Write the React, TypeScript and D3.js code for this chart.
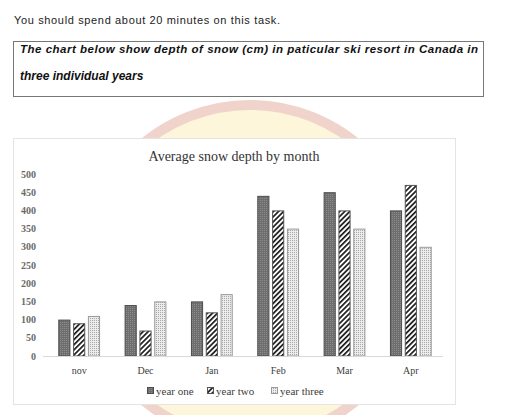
import * as d3 from "d3";
import { useEffect, useRef } from "react";

const months = ["nov", "Dec", "Jan", "Feb", "Mar", "Apr"];
const seriesNames = ["year one", "year two", "year three"];
const yearOne = [100, 140, 150, 440, 450, 400];
const yearTwo = [90, 70, 120, 400, 400, 470];
const yearThree = [110, 150, 170, 350, 350, 300];
const yTicks = [0, 50, 100, 150, 200, 250, 300, 350, 400, 450, 500];

const headerNote = "You should spend about 20 minutes on this task.";
const promptLine1 = "The chart below show depth of snow (cm) in paticular ski resort in Canada in";
const promptLine2 = "three individual years";
const chartTitle = "Average snow depth by month";

export default function App() {
  const svgRef = useRef<SVGSVGElement | null>(null);

  useEffect(() => {
    if (!svgRef.current) return;
    const svg = d3.select(svgRef.current);
    svg.selectAll("*").remove();

    const width = 512;
    const height = 415;
    const serif = "'Liberation Serif', 'Times New Roman', serif";
    const sans = "'Liberation Sans', Arial, sans-serif";

    const defs = svg.append("defs");

    // year one: dark grey fine dots
    const p1 = defs
      .append("pattern")
      .attr("id", "pat-one")
      .attr("patternUnits", "userSpaceOnUse")
      .attr("width", 2)
      .attr("height", 2);
    p1.append("rect").attr("width", 2).attr("height", 2).attr("fill", "#6e6e6e");
    p1.append("rect").attr("width", 1).attr("height", 1).attr("fill", "#8c8c8c");

    // year two: black diagonal stripes
    const p2 = defs
      .append("pattern")
      .attr("id", "pat-two")
      .attr("patternUnits", "userSpaceOnUse")
      .attr("width", 3.6)
      .attr("height", 3.6)
      .attr("patternTransform", "rotate(45)");
    p2.append("rect").attr("width", 3.6).attr("height", 3.6).attr("fill", "#ffffff");
    p2.append("rect").attr("width", 1.7).attr("height", 3.6).attr("fill", "#1a1a1a");

    // year three: light dotted
    const p3 = defs
      .append("pattern")
      .attr("id", "pat-three")
      .attr("patternUnits", "userSpaceOnUse")
      .attr("width", 2)
      .attr("height", 2);
    p3.append("rect").attr("width", 2).attr("height", 2).attr("fill", "#ececec");
    p3.append("rect").attr("width", 1).attr("height", 1).attr("fill", "#a8a8a8");

    const fills = ["url(#pat-one)", "url(#pat-two)", "url(#pat-three)"];
    const strokes = ["#4d4d4d", "#555555", "#9a9a9a"];

    svg.append("rect").attr("width", width).attr("height", height).attr("fill", "#ffffff");

    // faint watermark behind the chart box
    svg
      .append("circle")
      .attr("cx", 250)
      .attr("cy", 272)
      .attr("r", 167)
      .attr("fill", "#fdf6da")
      .attr("stroke", "#f0d3cb")
      .attr("stroke-width", 10);

    // header
    svg
      .append("text")
      .attr("x", 14)
      .attr("y", 24)
      .attr("font-family", sans)
      .attr("font-size", 11)
      .attr("fill", "#222")
      .attr("textLength", 266)
      .text(headerNote);

    svg
      .append("rect")
      .attr("x", 13.5)
      .attr("y", 41.5)
      .attr("width", 470)
      .attr("height", 55)
      .attr("fill", "#ffffff")
      .attr("stroke", "#777")
      .attr("stroke-width", 1);

    svg
      .append("text")
      .attr("x", 20)
      .attr("y", 53)
      .attr("font-family", sans)
      .attr("font-size", 11.5)
      .attr("font-weight", "bold")
      .attr("font-style", "italic")
      .attr("fill", "#111")
      .attr("textLength", 458)
      .attr("lengthAdjust", "spacing")
      .text(promptLine1);

    svg
      .append("text")
      .attr("x", 20)
      .attr("y", 80)
      .attr("font-family", sans)
      .attr("font-size", 12)
      .attr("font-weight", "bold")
      .attr("font-style", "italic")
      .attr("fill", "#111")
      .text(promptLine2);

    // chart box
    svg
      .append("rect")
      .attr("x", 13.5)
      .attr("y", 138.5)
      .attr("width", 442)
      .attr("height", 266)
      .attr("fill", "#ffffff")
      .attr("stroke", "#e4e4e4");

    svg
      .append("text")
      .attr("x", 234)
      .attr("y", 161)
      .attr("text-anchor", "middle")
      .attr("font-family", serif)
      .attr("font-size", 14)
      .attr("fill", "#333")
      .text(chartTitle);

    const x = d3.scaleBand<string>().domain(months).range([46, 444]).paddingInner(0.37).paddingOuter(0.185);
    const xs = d3.scaleBand<string>().domain(seriesNames).range([0, x.bandwidth()]).paddingInner(0.18);
    const y = d3.scaleLinear().domain([0, 500]).range([356, 174]);

    // y tick labels
    svg
      .append("g")
      .selectAll("text")
      .data(yTicks)
      .join("text")
      .attr("x", 36)
      .attr("y", (d) => y(d))
      .attr("dy", "0.35em")
      .attr("text-anchor", "end")
      .attr("font-family", serif)
      .attr("font-size", 10)
      .attr("font-weight", "bold")
      .attr("fill", "#6a6a6a")
      .text((d) => d);

    const series = [yearOne, yearTwo, yearThree];
    series.forEach((vals, si) => {
      svg
        .append("g")
        .selectAll("rect")
        .data(vals)
        .join("rect")
        .attr("x", (_d, i) => (x(months[i]) ?? 0) + (xs(seriesNames[si]) ?? 0) + 0.5)
        .attr("y", (d) => y(d) + 0.5)
        .attr("width", xs.bandwidth() - 1)
        .attr("height", (d) => y(0) - y(d) - 0.5)
        .attr("fill", fills[si])
        .attr("stroke", strokes[si])
        .attr("stroke-width", 1);
    });

    // baseline
    svg
      .append("line")
      .attr("x1", 43)
      .attr("x2", 443)
      .attr("y1", y(0) + 0.5)
      .attr("y2", y(0) + 0.5)
      .attr("stroke", "#d9d9d9");

    // category labels
    svg
      .append("g")
      .selectAll("text")
      .data(months)
      .join("text")
      .attr("x", (d) => (x(d) ?? 0) + x.bandwidth() / 2)
      .attr("y", 370)
      .attr("dy", "0.35em")
      .attr("text-anchor", "middle")
      .attr("font-family", serif)
      .attr("font-size", 10)
      .attr("fill", "#404040")
      .text((d) => d);

    // legend
    const legendX = [147, 207, 271];
    const legend = svg
      .append("g")
      .selectAll("g")
      .data(seriesNames)
      .join("g")
      .attr("transform", (_d, i) => `translate(${legendX[i]},392)`);
    legend
      .append("rect")
      .attr("x", 0.5)
      .attr("y", -4.5)
      .attr("width", 6)
      .attr("height", 6)
      .attr("fill", (_d, i) => fills[i])
      .attr("stroke", (_d, i) => strokes[i]);
    legend
      .append("text")
      .attr("x", 9)
      .attr("y", 0)
      .attr("dy", "0.3em")
      .attr("font-family", serif)
      .attr("font-size", 11)
      .attr("fill", "#404040")
      .text((d) => d);
  }, []);

  return (
    <svg
      ref={svgRef}
      width={512}
      height={415}
      style={{ position: "absolute", left: 0, top: 0, display: "block" }}
    />
  );
}
